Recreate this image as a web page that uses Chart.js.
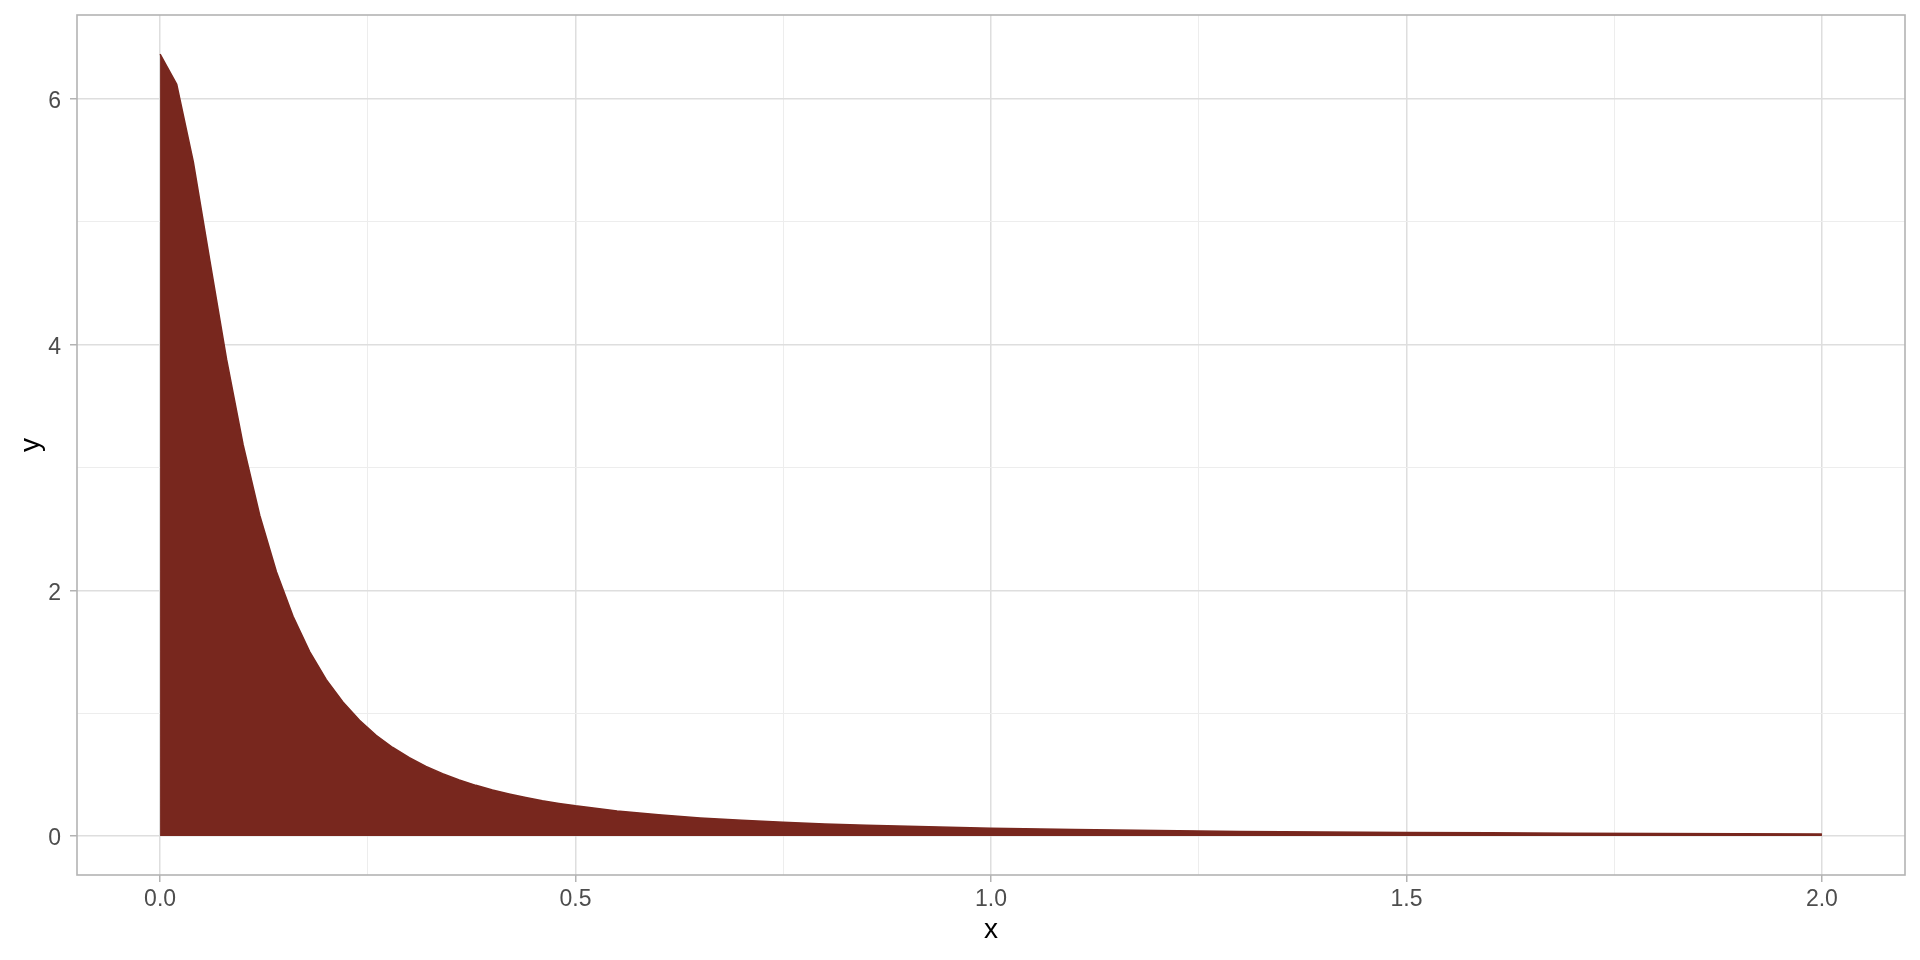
<!DOCTYPE html>
<html>
<head>
<meta charset="utf-8">
<script src="https://cdn.jsdelivr.net/npm/chart.js@4"></script>
<style>
  html, body { margin: 0; padding: 0; background: #fff; }
  #wrap { width: 1920px; height: 960px; }
</style>
</head>
<body>
<div id="wrap"><canvas id="densityChart" width="1920" height="960"></canvas></div>
<script>
// values
const xs = [0, 0.02, 0.04, 0.06, 0.08, 0.10, 0.12, 0.14, 0.16, 0.18, 0.20,
  0.22, 0.24, 0.26, 0.28, 0.30, 0.32, 0.34, 0.36, 0.38, 0.40,
  0.42, 0.44, 0.46, 0.48, 0.50, 0.55, 0.60, 0.65, 0.70, 0.75, 0.80,
  0.85, 0.90, 0.95, 1.00, 1.10, 1.20, 1.30, 1.40, 1.50, 1.60, 1.70,
  1.80, 1.90, 2.00];
const ys = [6.366, 6.121, 5.488, 4.681, 3.882, 3.183, 2.609, 2.151, 1.788, 1.501, 1.273,
  1.090, 0.942, 0.820, 0.720, 0.637, 0.566, 0.507, 0.456, 0.412, 0.374,
  0.342, 0.313, 0.287, 0.265, 0.245, 0.204, 0.172, 0.147, 0.127, 0.111, 0.098,
  0.087, 0.078, 0.070, 0.063, 0.052, 0.044, 0.037, 0.032, 0.028, 0.025, 0.022,
  0.020, 0.018, 0.016];

const xTicks = [0, 0.25, 0.5, 0.75, 1.0, 1.25, 1.5, 1.75, 2.0];
const xMajor = [0, 0.5, 1.0, 1.5, 2.0];
const yTicks = [0, 1, 2, 3, 4, 5, 6];
const yMajor = [0, 2, 4, 6];

const FILL = "#78271E";
const MAJOR = "#DEDEDE";
const MINOR = "#EDEDED";
const FRAME = "#B3B3B3";
const FONT = "Liberation Sans, Arial, sans-serif";

const isMajor = (list, v) => list.some(m => Math.abs(m - v) < 1e-9);

// panel border like ggplot theme_light
const panelBorder = {
  id: "panelBorder",
  afterDraw(chart) {
    const { ctx, chartArea: a } = chart;
    ctx.save();
    ctx.strokeStyle = FRAME;
    ctx.lineWidth = 1.6;
    ctx.strokeRect(a.left, a.top, a.right - a.left, a.bottom - a.top);
    ctx.restore();
  },
};

document.addEventListener("DOMContentLoaded", () => {
  const canvas = document.getElementById("densityChart");

  new Chart(canvas, {
    type: "line",
    data: {
      datasets: [{
        data: xs.map((x, i) => ({ x: x, y: ys[i] })),
        fill: "origin",
        backgroundColor: FILL,
        borderColor: FILL,
        borderWidth: 1.5,
        pointRadius: 0,
        tension: 0,
      }],
    },
    options: {
      responsive: false,
      animation: false,
      devicePixelRatio: 1,
      layout: { padding: { left: 0, right: 15, top: 15, bottom: 0 } },
      plugins: {
        legend: { display: false },
        tooltip: { enabled: false },
      },
      scales: {
        x: {
          type: "linear",
          min: -0.1,
          max: 2.1,
          afterBuildTicks: s => { s.ticks = xTicks.map(v => ({ value: v })); },
          afterFit: s => { s.height = 85; s.paddingLeft = 0; s.paddingRight = 0; },
          border: { display: false },
          grid: {
            color: c => isMajor(xMajor, c.tick.value) ? MAJOR : MINOR,
            lineWidth: c => isMajor(xMajor, c.tick.value) ? 1.5 : 1,
            tickColor: c => isMajor(xMajor, c.tick.value) ? FRAME : "rgba(0,0,0,0)",
            tickLength: 7,
            tickWidth: 1.5,
          },
          ticks: {
            autoSkip: false,
            maxRotation: 0,
            padding: 4,
            color: "#4D4D4D",
            font: { family: FONT, size: 23 },
            callback: v => isMajor(xMajor, v) ? v.toFixed(1) : "",
          },
          title: {
            display: true,
            text: "x",
            color: "#000",
            font: { family: FONT, size: 28 },
            padding: { top: 13, bottom: 13 },
          },
        },
        y: {
          type: "linear",
          min: -0.318,
          max: 6.684,
          afterBuildTicks: s => { s.ticks = yTicks.map(v => ({ value: v })); },
          afterFit: s => { s.width = 77; s.paddingTop = 0; s.paddingBottom = 0; },
          border: { display: false },
          grid: {
            color: c => isMajor(yMajor, c.tick.value) ? MAJOR : MINOR,
            lineWidth: c => isMajor(yMajor, c.tick.value) ? 1.5 : 1,
            tickColor: c => isMajor(yMajor, c.tick.value) ? FRAME : "rgba(0,0,0,0)",
            tickLength: 7,
            tickWidth: 1.5,
          },
          ticks: {
            autoSkip: false,
            padding: 9,
            labelOffset: 3,
            color: "#4D4D4D",
            font: { family: FONT, size: 23 },
            callback: v => isMajor(yMajor, v) ? String(v) : "",
          },
          title: {
            display: true,
            text: "y",
            color: "#000",
            font: { family: FONT, size: 28 },
            padding: { top: 14, bottom: 14 },
          },
        },
      },
    },
    plugins: [panelBorder],
  });
});
</script>
</body>
</html>
